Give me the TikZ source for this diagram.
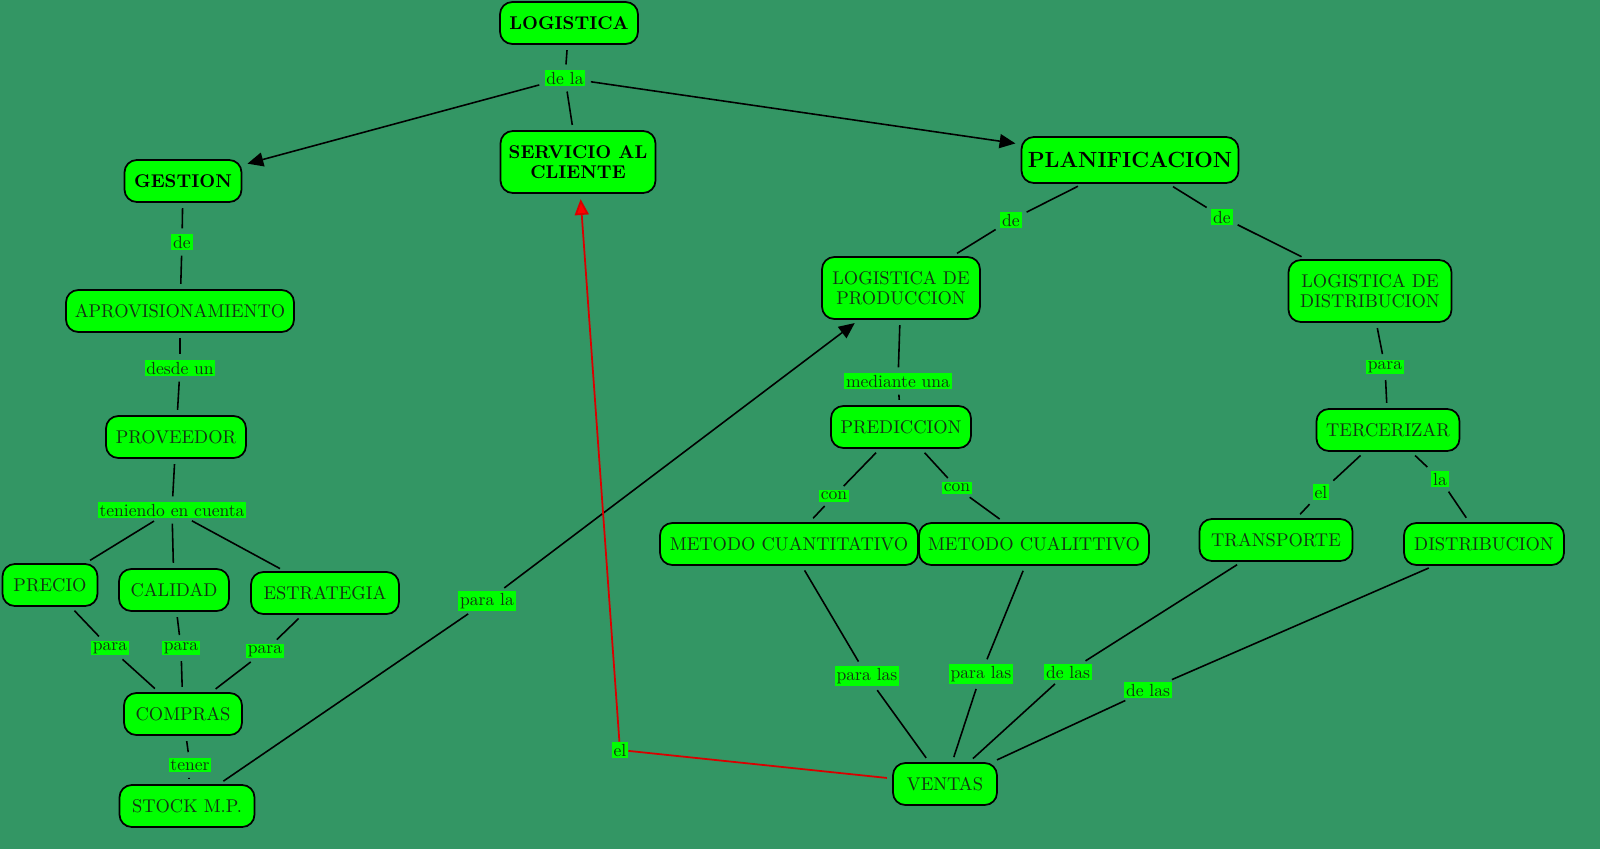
\documentclass[tikz,border=0pt]{standalone}
\usetikzlibrary{arrows.meta}
\definecolor{bg}{RGB}{51,150,100}
\definecolor{nodegreen}{RGB}{0,255,0}
\definecolor{txt}{RGB}{20,50,20}
\begin{document}
\begin{tikzpicture}[x=0.02cm,y=-0.02cm,
  concept/.style={draw=black,line width=1pt,fill=nodegreen,rounded corners=7pt,align=center,text=txt,font=\fontsize{10.5}{11.5}\selectfont,inner sep=1pt},
  boldc/.style={concept,font=\fontsize{10.5}{11.5}\selectfont\bfseries,text=black},
  lbl/.style={fill=nodegreen,inner sep=1pt,text=txt,font=\fontsize{10}{11}\selectfont},
  ln/.style={draw=black,line width=0.9pt,shorten <=3pt,shorten >=3pt},
  arr/.style={ln,-{Triangle[length=9pt,width=8pt]}},
  redarr/.style={draw=red!85!black,line width=1pt,shorten >=3pt,-{Triangle[length=9pt,width=8pt,fill=red]}}]
\fill[bg] (0,0) rectangle (1600,849);
\useasboundingbox (0,0) rectangle (1600,849);
% concepts
\node[boldc,minimum width=138*0.02cm,minimum height=42*0.02cm] (log) at (569,23) {LOGISTICA};
\node[boldc,minimum width=155*0.02cm,minimum height=62*0.02cm] (serv) at (578,162) {SERVICIO AL\\CLIENTE};
\node[boldc,font=\fontsize{12.5}{13.5}\selectfont\bfseries,minimum width=217*0.02cm,minimum height=46*0.02cm] (plan) at (1130,160) {PLANIFICACION};
\node[boldc,minimum width=117*0.02cm,minimum height=42*0.02cm] (gest) at (183,181) {GESTION};
\node[concept,minimum width=228*0.02cm,minimum height=42*0.02cm] (aprov) at (180,311) {APROVISIONAMIENTO};
\node[concept,minimum width=140*0.02cm,minimum height=42*0.02cm] (prov) at (176,437) {PROVEEDOR};
\node[concept,minimum width=95*0.02cm,minimum height=42*0.02cm] (precio) at (50,585) {PRECIO};
\node[concept,minimum width=110*0.02cm,minimum height=42*0.02cm] (calidad) at (174,590) {CALIDAD};
\node[concept,minimum width=148*0.02cm,minimum height=42*0.02cm] (estr) at (325,593) {ESTRATEGIA};
\node[concept,minimum width=118*0.02cm,minimum height=42*0.02cm] (compras) at (183,714) {COMPRAS};
\node[concept,minimum width=135*0.02cm,minimum height=42*0.02cm] (stock) at (187,806) {STOCK M.P.};
\node[concept,minimum width=158*0.02cm,minimum height=62*0.02cm] (lprod) at (901,288) {LOGISTICA DE\\PRODUCCION};
\node[concept,minimum width=163*0.02cm,minimum height=62*0.02cm] (ldist) at (1370,291) {LOGISTICA DE\\DISTRIBUCION};
\node[concept,minimum width=140*0.02cm,minimum height=42*0.02cm] (pred) at (901,427) {PREDICCION};
\node[concept,minimum width=143*0.02cm,minimum height=42*0.02cm] (terc) at (1388,430) {TERCERIZAR};
\node[concept,minimum width=258*0.02cm,minimum height=42*0.02cm] (cuant) at (789,544) {METODO CUANTITATIVO};
\node[concept,minimum width=230*0.02cm,minimum height=42*0.02cm] (cuali) at (1034,544) {METODO CUALITTIVO};
\node[concept,minimum width=153*0.02cm,minimum height=42*0.02cm] (transp) at (1276,540) {TRANSPORTE};
\node[concept,minimum width=160*0.02cm,minimum height=42*0.02cm] (distr) at (1484,544) {DISTRIBUCION};
\node[concept,minimum width=104*0.02cm,minimum height=42*0.02cm] (ventas) at (945,784) {VENTAS};
% labels
\node[lbl] (l1) at (565,78) {de la};
\node[lbl] (l2) at (182,242) {de};
\node[lbl] (l3) at (180,368) {desde un};
\node[lbl] (l4) at (172,510) {teniendo en cuenta};
\node[lbl] (l5) at (110,648) {para};
\node[lbl] (l6) at (181,648) {para};
\node[lbl] (l7) at (265,651) {para};
\node[lbl] (l8) at (190,765) {tener};
\node[lbl] (l9) at (487,601) {para la};
\node[lbl] (l10) at (1011,220) {de};
\node[lbl] (l11) at (1222,217) {de};
\node[lbl] (l12) at (898,381) {mediante una};
\node[lbl] (l13) at (1385,367) {para};
\node[lbl] (l14) at (834,496) {con};
\node[lbl] (l15) at (957,488) {con};
\node[lbl] (l16) at (1321,492) {el};
\node[lbl] (l17) at (1440,479) {la};
\node[lbl] (l18) at (867,676) {para las};
\node[lbl] (l19) at (981,674) {para las};
\node[lbl] (l20) at (1068,672) {de las};
\node[lbl] (l21) at (1148,690) {de las};
\node[lbl] (l22) at (620,750) {el};
% connectors
\draw[ln] (log) -- (l1);
\draw[ln] (l1) -- (serv);
\draw[arr] (l1) -- (gest);
\draw[arr] (l1) -- (plan);
\draw[ln] (gest) -- (l2); \draw[ln] (l2) -- (aprov);
\draw[ln] (aprov) -- (l3); \draw[ln] (l3) -- (prov);
\draw[ln] (prov) -- (l4);
\draw[ln] (l4) -- (precio); \draw[ln] (l4) -- (calidad); \draw[ln] (l4) -- (estr);
\draw[ln] (precio) -- (l5); \draw[ln] (l5) -- (compras);
\draw[ln] (calidad) -- (l6); \draw[ln] (l6) -- (compras);
\draw[ln] (estr) -- (l7); \draw[ln] (l7) -- (compras);
\draw[ln] (compras) -- (l8); \draw[ln] (l8) -- (stock);
\draw[ln] (stock) -- (l9); \draw[arr] (l9) -- (lprod);
\draw[ln] (plan) -- (l10); \draw[ln] (l10) -- (lprod);
\draw[ln] (plan) -- (l11); \draw[ln] (l11) -- (ldist);
\draw[ln] (lprod) -- (l12); \draw[ln] (l12) -- (pred);
\draw[ln] (pred) -- (l14); \draw[ln] (l14) -- (cuant);
\draw[ln] (pred) -- (l15); \draw[ln] (l15) -- (cuali);
\draw[ln] (ldist) -- (l13); \draw[ln] (l13) -- (terc);
\draw[ln] (terc) -- (l16); \draw[ln] (l16) -- (transp);
\draw[ln] (terc) -- (l17); \draw[ln] (l17) -- (distr);
\draw[ln] (cuant) -- (l18); \draw[ln] (l18) -- (ventas);
\draw[ln] (cuali) -- (l19); \draw[ln] (l19) -- (ventas);
\draw[ln] (transp) -- (l20); \draw[ln] (l20) -- (ventas);
\draw[ln] (distr) -- (l21); \draw[ln] (l21) -- (ventas);
\draw[draw=red!85!black,line width=1pt,shorten <=3pt] (ventas) -- (l22);
\draw[redarr] (l22) -- (serv);
\end{tikzpicture}
\end{document}
